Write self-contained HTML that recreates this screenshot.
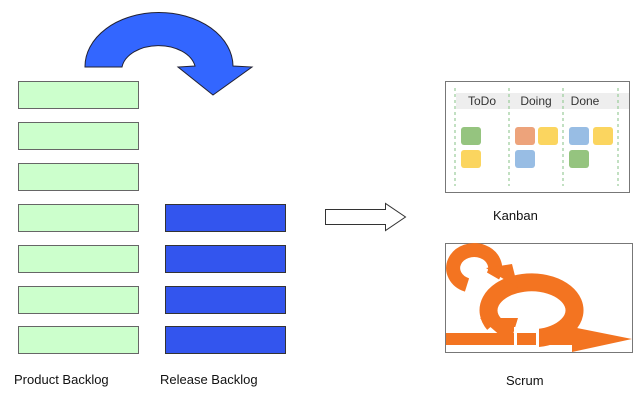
<!DOCTYPE html>
<html><head><meta charset="utf-8"><style>
html,body{margin:0;padding:0;background:#fff;width:640px;height:408px;overflow:hidden}
svg{display:block}
text{font-family:"Liberation Sans",Arial,sans-serif}
</style></head><body>
<svg width="640" height="408" viewBox="0 0 640 408">
<g fill="#ccffcc" stroke="#666" stroke-width="1">
<rect x="18.5" y="81.5" width="120" height="27"/>
<rect x="18.5" y="122.5" width="120" height="27"/>
<rect x="18.5" y="163.5" width="120" height="27"/>
<rect x="18.5" y="204.5" width="120" height="27"/>
<rect x="18.5" y="245.5" width="120" height="27"/>
<rect x="18.5" y="286.5" width="120" height="27"/>
<rect x="18.5" y="326.5" width="120" height="27"/>
</g>
<g fill="#3355ee" stroke="#333" stroke-width="1">
<rect x="165.5" y="204.5" width="120" height="27"/>
<rect x="165.5" y="245.5" width="120" height="27"/>
<rect x="165.5" y="286.5" width="120" height="27"/>
<rect x="165.5" y="326.5" width="120" height="27"/>
</g>
<path d="M85,67 A74,54 0 0 1 233,66 L252,67 L213,95 L178,67 L195,66 A37,25 0 0 0 122,67 Z" fill="#3366ff" stroke="#223" stroke-width="1"/>
<path d="M325.5,209.5 H385.5 V203.5 L405.5,217 L385.5,230.5 V224.5 H325.5 Z" fill="#fff" stroke="#333" stroke-width="1"/>
<text x="14" y="384" font-size="13" fill="#111">Product Backlog</text>
<text x="160" y="384" font-size="13" fill="#111">Release Backlog</text>
<text x="493" y="220" font-size="13" fill="#111">Kanban</text>
<text x="506" y="385" font-size="13" fill="#111">Scrum</text>
<!-- Kanban -->
<rect x="445.5" y="81.5" width="184" height="111" fill="#fff" stroke="#777"/>
<rect x="456" y="93" width="173" height="16" fill="#eeeeee"/>
<g stroke="#9c9" stroke-dasharray="3,3" stroke-width="1.2">
<line x1="455" y1="88" x2="455" y2="186"/><line x1="509" y1="88" x2="509" y2="186"/>
<line x1="563" y1="88" x2="563" y2="186"/><line x1="618" y1="88" x2="618" y2="186"/>
</g>
<g font-size="12" fill="#333" text-anchor="middle">
<text x="482" y="105">ToDo</text><text x="536" y="105">Doing</text><text x="585" y="105">Done</text>
</g>
<g>
<rect x="461" y="127" width="20" height="18" rx="3" fill="#95c47f"/>
<rect x="461" y="150" width="20" height="18" rx="3" fill="#fbd55f"/>
<rect x="515" y="127" width="20" height="18" rx="3" fill="#eda37b"/>
<rect x="538" y="127" width="20" height="18" rx="3" fill="#fbd55f"/>
<rect x="515" y="150" width="20" height="18" rx="3" fill="#98bde4"/>
<rect x="569" y="127" width="20" height="18" rx="3" fill="#98bde4"/>
<rect x="593" y="127" width="20" height="18" rx="3" fill="#fbd55f"/>
<rect x="569" y="150" width="20" height="18" rx="3" fill="#95c47f"/>
</g>
<!-- Scrum -->
<rect x="445.5" y="243.5" width="187" height="109" fill="#fff" stroke="#777"/>
<g fill="none" stroke="#f37421">
<path d="M467,285 A21,18 0 1 1 493,276" stroke-width="14"/>
<path d="M538,338 A43,28 0 1 0 494,324" stroke-width="18"/>
</g>
<g fill="#f37421">
<polygon points="486,268 512,264 518,288"/>
<polygon points="480,318 518,318 510,344"/>
<rect x="446" y="333" width="129" height="12"/>
<polygon points="572,327 632,339 572,352"/>
</g>
<g fill="#fff">
<rect x="514" y="327" width="3" height="20"/>
<rect x="536" y="327" width="3" height="20"/>
</g>
</svg>
</body></html>
